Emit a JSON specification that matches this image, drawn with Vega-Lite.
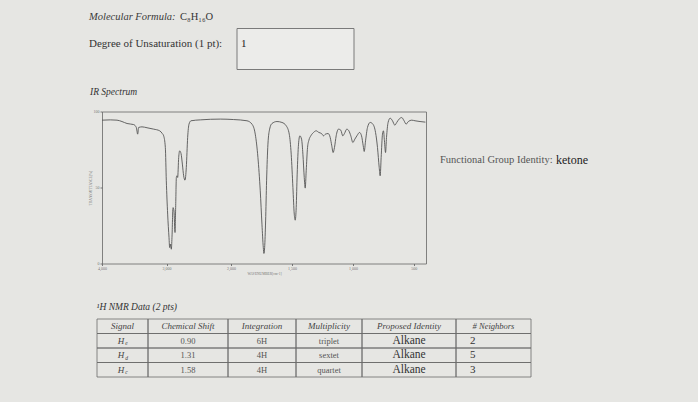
{
  "$schema": "https://vega.github.io/schema/vega-lite/v6.json",
  "background": "#e6e6e3",
  "padding": {"left": 88, "top": 3, "right": 110, "bottom": 24},
  "spacing": 16.5,
  "config": {
    "view": {"stroke": null},
    "font": "Liberation Serif",
    "text": {"font": "Liberation Serif"},
    "title": {"font": "Liberation Serif"}
  },
  "vconcat": [
    {
      "width": 266,
      "height": 58,
      "data": {"values": [
        {"item": "formula", "label": "Molecular Formula:", "answer": "C₈H₁₆O"},
        {"item": "unsaturation", "label": "Degree of Unsaturation (1 pt):", "answer": "1"}
      ]},
      "encoding": {
        "y": {"field": "item", "type": "nominal", "axis": null,
              "scale": {"domain": ["formula", "unsaturation"], "range": [0, 54], "paddingInner": 0, "paddingOuter": 0}}
      },
      "layer": [
        {
          "transform": [{"filter": "datum.item === 'formula'"}],
          "mark": {"type": "text", "align": "left", "baseline": "middle", "fontStyle": "italic", "fontSize": 10.5, "dx": -8, "color": "#3a3a3a"},
          "encoding": {
            "x": {"datum": "label", "type": "nominal", "bandPosition": 0, "axis": null, "scale": {"domain": ["label", "answer"], "paddingInner": 0.2148, "paddingOuter": 0}},
            "text": {"field": "label"}
          }
        },
        {
          "transform": [{"filter": "datum.item === 'formula'"}],
          "mark": {"type": "text", "align": "left", "baseline": "middle", "fontSize": 10.5, "dx": 83, "color": "#333"},
          "encoding": {
            "x": {"datum": "label", "type": "nominal", "bandPosition": 0},
            "text": {"field": "answer"}
          }
        },
        {
          "transform": [{"filter": "datum.item === 'unsaturation'"}],
          "mark": {"type": "text", "align": "left", "baseline": "middle", "fontSize": 11, "dx": -8, "color": "#333"},
          "encoding": {
            "x": {"datum": "label", "type": "nominal", "bandPosition": 0},
            "text": {"field": "label"}
          }
        },
        {
          "transform": [{"filter": "datum.item === 'unsaturation'"}],
          "mark": {"type": "rect", "fill": "#ececea", "stroke": "#7a7a7a", "strokeWidth": 1, "height": 41, "yOffset": 5.5, "xOffset": -9, "x2Offset": -9},
          "encoding": {
            "x": {"datum": "answer", "type": "nominal"}
          }
        },
        {
          "transform": [{"filter": "datum.item === 'unsaturation'"}],
          "mark": {"type": "text", "align": "left", "baseline": "middle", "fontSize": 11, "dx": -5, "color": "#222"},
          "encoding": {
            "x": {"datum": "answer", "type": "nominal", "bandPosition": 0},
            "text": {"field": "answer"}
          }
        }
      ]
    },
    {
      "width": 329,
      "height": 152,
      "title": {"text": "IR Spectrum", "anchor": "start", "frame": "bounds", "fontStyle": "italic", "fontWeight": "normal", "fontSize": 9.5, "color": "#333", "offset": 13, "dx": 2},
      "resolve": {"axis": {"x": "independent", "y": "independent"}},
      "data": {"values": [
        {"wavenumber": 4000, "transmittance": 94.3},
        {"wavenumber": 3871, "transmittance": 94.5},
        {"wavenumber": 3767, "transmittance": 94.3},
        {"wavenumber": 3690, "transmittance": 93.4},
        {"wavenumber": 3612, "transmittance": 92.1},
        {"wavenumber": 3509, "transmittance": 91.4},
        {"wavenumber": 3468, "transmittance": 89.5},
        {"wavenumber": 3447, "transmittance": 85.1},
        {"wavenumber": 3432, "transmittance": 89.5},
        {"wavenumber": 3380, "transmittance": 89.9},
        {"wavenumber": 3302, "transmittance": 89.3},
        {"wavenumber": 3199, "transmittance": 88.4},
        {"wavenumber": 3106, "transmittance": 87.3},
        {"wavenumber": 3065, "transmittance": 85.5},
        {"wavenumber": 3044, "transmittance": 84.0},
        {"wavenumber": 3018, "transmittance": 76.3},
        {"wavenumber": 3003, "transmittance": 54.4},
        {"wavenumber": 2982, "transmittance": 32.5},
        {"wavenumber": 2961, "transmittance": 17.0},
        {"wavenumber": 2951, "transmittance": 10.5},
        {"wavenumber": 2940, "transmittance": 12.7},
        {"wavenumber": 2925, "transmittance": 9.4},
        {"wavenumber": 2915, "transmittance": 17.0},
        {"wavenumber": 2899, "transmittance": 36.8},
        {"wavenumber": 2884, "transmittance": 34.6},
        {"wavenumber": 2868, "transmittance": 20.4},
        {"wavenumber": 2858, "transmittance": 36.8},
        {"wavenumber": 2847, "transmittance": 56.6},
        {"wavenumber": 2837, "transmittance": 57.7},
        {"wavenumber": 2827, "transmittance": 56.6},
        {"wavenumber": 2811, "transmittance": 69.7},
        {"wavenumber": 2796, "transmittance": 74.1},
        {"wavenumber": 2775, "transmittance": 72.4},
        {"wavenumber": 2754, "transmittance": 65.4},
        {"wavenumber": 2734, "transmittance": 57.7},
        {"wavenumber": 2713, "transmittance": 54.8},
        {"wavenumber": 2693, "transmittance": 63.2},
        {"wavenumber": 2672, "transmittance": 82.9},
        {"wavenumber": 2651, "transmittance": 91.7},
        {"wavenumber": 2620, "transmittance": 93.9},
        {"wavenumber": 2475, "transmittance": 94.5},
        {"wavenumber": 2165, "transmittance": 95.0},
        {"wavenumber": 1978, "transmittance": 94.7},
        {"wavenumber": 1869, "transmittance": 93.9},
        {"wavenumber": 1828, "transmittance": 91.7},
        {"wavenumber": 1801, "transmittance": 85.1},
        {"wavenumber": 1779, "transmittance": 69.7},
        {"wavenumber": 1760, "transmittance": 47.8},
        {"wavenumber": 1746, "transmittance": 25.9},
        {"wavenumber": 1735, "transmittance": 10.5},
        {"wavenumber": 1730, "transmittance": 6.6},
        {"wavenumber": 1724, "transmittance": 10.5},
        {"wavenumber": 1716, "transmittance": 28.0},
        {"wavenumber": 1708, "transmittance": 54.4},
        {"wavenumber": 1697, "transmittance": 78.5},
        {"wavenumber": 1683, "transmittance": 88.4},
        {"wavenumber": 1664, "transmittance": 92.1},
        {"wavenumber": 1623, "transmittance": 93.4},
        {"wavenumber": 1582, "transmittance": 92.8},
        {"wavenumber": 1547, "transmittance": 90.6},
        {"wavenumber": 1522, "transmittance": 85.1},
        {"wavenumber": 1506, "transmittance": 71.9},
        {"wavenumber": 1492, "transmittance": 50.0},
        {"wavenumber": 1481, "transmittance": 32.5},
        {"wavenumber": 1473, "transmittance": 28.5},
        {"wavenumber": 1465, "transmittance": 36.8},
        {"wavenumber": 1457, "transmittance": 58.8},
        {"wavenumber": 1446, "transmittance": 78.5},
        {"wavenumber": 1435, "transmittance": 84.0},
        {"wavenumber": 1421, "transmittance": 81.8},
        {"wavenumber": 1410, "transmittance": 71.9},
        {"wavenumber": 1399, "transmittance": 56.6},
        {"wavenumber": 1391, "transmittance": 49.6},
        {"wavenumber": 1383, "transmittance": 61.0},
        {"wavenumber": 1372, "transmittance": 76.3},
        {"wavenumber": 1361, "transmittance": 81.1},
        {"wavenumber": 1345, "transmittance": 84.0},
        {"wavenumber": 1323, "transmittance": 86.2},
        {"wavenumber": 1301, "transmittance": 87.3},
        {"wavenumber": 1279, "transmittance": 86.2},
        {"wavenumber": 1257, "transmittance": 85.5},
        {"wavenumber": 1241, "transmittance": 84.0},
        {"wavenumber": 1225, "transmittance": 85.1},
        {"wavenumber": 1203, "transmittance": 85.5},
        {"wavenumber": 1186, "transmittance": 82.9},
        {"wavenumber": 1173, "transmittance": 77.4},
        {"wavenumber": 1162, "transmittance": 73.0},
        {"wavenumber": 1151, "transmittance": 76.3},
        {"wavenumber": 1137, "transmittance": 84.0},
        {"wavenumber": 1118, "transmittance": 88.4},
        {"wavenumber": 1099, "transmittance": 87.7},
        {"wavenumber": 1083, "transmittance": 84.0},
        {"wavenumber": 1069, "transmittance": 85.5},
        {"wavenumber": 1050, "transmittance": 88.4},
        {"wavenumber": 1033, "transmittance": 87.3},
        {"wavenumber": 1017, "transmittance": 84.0},
        {"wavenumber": 1000, "transmittance": 79.6},
        {"wavenumber": 984, "transmittance": 81.8},
        {"wavenumber": 967, "transmittance": 84.0},
        {"wavenumber": 945, "transmittance": 86.2},
        {"wavenumber": 929, "transmittance": 84.0},
        {"wavenumber": 915, "transmittance": 77.4},
        {"wavenumber": 907, "transmittance": 73.7},
        {"wavenumber": 896, "transmittance": 80.7},
        {"wavenumber": 880, "transmittance": 89.5},
        {"wavenumber": 858, "transmittance": 92.8},
        {"wavenumber": 836, "transmittance": 91.7},
        {"wavenumber": 814, "transmittance": 86.2},
        {"wavenumber": 798, "transmittance": 76.3},
        {"wavenumber": 784, "transmittance": 63.2},
        {"wavenumber": 776, "transmittance": 57.7},
        {"wavenumber": 768, "transmittance": 69.7},
        {"wavenumber": 757, "transmittance": 85.1},
        {"wavenumber": 749, "transmittance": 87.3},
        {"wavenumber": 741, "transmittance": 80.7},
        {"wavenumber": 732, "transmittance": 73.0},
        {"wavenumber": 724, "transmittance": 82.9},
        {"wavenumber": 711, "transmittance": 92.8},
        {"wavenumber": 694, "transmittance": 95.6},
        {"wavenumber": 675, "transmittance": 93.9},
        {"wavenumber": 656, "transmittance": 91.0},
        {"wavenumber": 640, "transmittance": 92.8},
        {"wavenumber": 621, "transmittance": 95.0},
        {"wavenumber": 599, "transmittance": 96.0},
        {"wavenumber": 580, "transmittance": 93.9},
        {"wavenumber": 563, "transmittance": 91.7},
        {"wavenumber": 545, "transmittance": 93.4},
        {"wavenumber": 517, "transmittance": 94.3},
        {"wavenumber": 490, "transmittance": 93.9},
        {"wavenumber": 449, "transmittance": 93.4},
        {"wavenumber": 405, "transmittance": 93.0}
      ]},
      "layer": [
        {
          "mark": {"type": "line", "color": "#555", "strokeWidth": 0.9, "interpolate": "monotone"},
          "encoding": {
            "x": {"field": "wavenumber", "type": "quantitative",
                  "scale": {"domain": [4000, 2000, 400], "range": [5, 134, 329], "nice": false, "zero": false},
                  "axis": {"values": [4000, 3000, 2000, 1500, 1000, 500], "title": "WAVENUMBER[cm-1]", "titleFontSize": 3.5, "titleFontWeight": "normal", "titleColor": "#777", "titlePadding": 1, "labelFontSize": 4, "labelColor": "#777", "labelPadding": 1, "labelFlush": false, "tickSize": 2, "tickColor": "#777", "domainColor": "#666", "domainWidth": 0.8, "grid": false}},
            "y": {"field": "transmittance", "type": "quantitative",
                  "scale": {"domain": [0, 100], "nice": false},
                  "axis": {"values": [0, 50, 100], "offset": -5, "title": "TRANSMITTANCE[%]", "titleFontSize": 3.5, "titleFontWeight": "normal", "titleColor": "#777", "titlePadding": 1, "labelFontSize": 4, "labelColor": "#777", "labelPadding": 1, "tickSize": 2, "tickColor": "#777", "domainColor": "#666", "domainWidth": 0.8, "grid": false}},
            "order": {"field": "wavenumber", "sort": "descending"}
          }
        },
        {
          "data": {"values": [{"label": "Functional Group Identity:", "answer": "ketone"}]},
          "mark": {"type": "text", "align": "left", "baseline": "middle", "fontSize": 10.5, "dx": 14, "color": "#555"},
          "encoding": {
            "x": {"datum": 400, "type": "quantitative", "axis": {"orient": "top", "labels": false, "ticks": false, "title": null, "grid": false, "domainColor": "#666", "domainWidth": 0.8}},
            "y": {"datum": 67.8, "type": "quantitative", "axis": {"orient": "right", "labels": false, "ticks": false, "title": null, "grid": false, "domainColor": "#666", "domainWidth": 0.8}},
            "text": {"field": "label"}
          }
        },
        {
          "data": {"values": [{"label": "Functional Group Identity:", "answer": "ketone"}]},
          "mark": {"type": "text", "align": "left", "baseline": "middle", "fontSize": 12, "dx": 130, "color": "#222"},
          "encoding": {
            "x": {"datum": 400, "type": "quantitative", "axis": null},
            "y": {"datum": 67.8, "type": "quantitative", "axis": null},
            "text": {"field": "answer"}
          }
        }
      ]
    },
    {
      "title": {"text": ["", "¹H NMR Data (2 pts)"], "lineHeight": 9.5, "anchor": "start", "fontStyle": "italic", "fontWeight": "normal", "fontSize": 9.5, "color": "#333", "offset": 7},
      "spacing": 0,
      "bounds": "flush",
      "data": {"values": [
        {"row": "h", "signal": "Signal", "sub": "", "shift": "Chemical Shift", "integration": "Integration", "multiplicity": "Multiplicity", "identity": "Proposed Identity", "neighbors": "# Neighbors"},
        {"row": "1", "signal": "H", "sub": "e", "shift": "0.90", "integration": "6H", "multiplicity": "triplet", "identity": "Alkane", "neighbors": "2"},
        {"row": "2", "signal": "H", "sub": "d", "shift": "1.31", "integration": "4H", "multiplicity": "sextet", "identity": "Alkane", "neighbors": "5"},
        {"row": "3", "signal": "H", "sub": "c", "shift": "1.58", "integration": "4H", "multiplicity": "quartet", "identity": "Alkane", "neighbors": "3"}
      ]},
      "hconcat": [
        {
          "width": 51, "height": 58,
          "encoding": {"y": {"field": "row", "type": "nominal", "axis": null, "scale": {"domain": ["h", "1", "2", "3"], "paddingInner": 0, "paddingOuter": 0}}},
          "layer": [
            {"mark": {"type": "rect", "fill": "transparent", "stroke": "#6a6a6a", "strokeWidth": 0.8}},
            {"transform": [{"filter": "datum.row === 'h'"}], "mark": {"type": "text", "fontStyle": "italic", "fontSize": 9, "color": "#444"}, "encoding": {"text": {"field": "signal"}}},
            {"transform": [{"filter": "datum.row !== 'h'"}], "mark": {"type": "text", "fontStyle": "italic", "fontSize": 9, "dx": -1.5, "color": "#444"}, "encoding": {"text": {"field": "signal"}}},
            {"transform": [{"filter": "datum.row !== 'h'"}], "mark": {"type": "text", "fontStyle": "italic", "fontSize": 5.5, "dx": 4, "dy": 2.5, "color": "#444"}, "encoding": {"text": {"field": "sub"}}}
          ]
        },
        {
          "width": 80, "height": 58,
          "encoding": {"y": {"field": "row", "type": "nominal", "axis": null, "scale": {"domain": ["h", "1", "2", "3"], "paddingInner": 0, "paddingOuter": 0}}},
          "layer": [
            {"mark": {"type": "rect", "fill": "transparent", "stroke": "#6a6a6a", "strokeWidth": 0.8}},
            {"transform": [{"filter": "datum.row === 'h'"}], "mark": {"type": "text", "fontStyle": "italic", "fontSize": 9, "color": "#444"}, "encoding": {"text": {"field": "shift"}}},
            {"transform": [{"filter": "datum.row !== 'h'"}], "mark": {"type": "text", "fontSize": 8.5, "color": "#555"}, "encoding": {"text": {"field": "shift"}}}
          ]
        },
        {
          "width": 68, "height": 58,
          "encoding": {"y": {"field": "row", "type": "nominal", "axis": null, "scale": {"domain": ["h", "1", "2", "3"], "paddingInner": 0, "paddingOuter": 0}}},
          "layer": [
            {"mark": {"type": "rect", "fill": "transparent", "stroke": "#6a6a6a", "strokeWidth": 0.8}},
            {"transform": [{"filter": "datum.row === 'h'"}], "mark": {"type": "text", "fontStyle": "italic", "fontSize": 9, "color": "#444"}, "encoding": {"text": {"field": "integration"}}},
            {"transform": [{"filter": "datum.row !== 'h'"}], "mark": {"type": "text", "fontSize": 8.5, "color": "#555"}, "encoding": {"text": {"field": "integration"}}}
          ]
        },
        {
          "width": 66, "height": 58,
          "encoding": {"y": {"field": "row", "type": "nominal", "axis": null, "scale": {"domain": ["h", "1", "2", "3"], "paddingInner": 0, "paddingOuter": 0}}},
          "layer": [
            {"mark": {"type": "rect", "fill": "transparent", "stroke": "#6a6a6a", "strokeWidth": 0.8}},
            {"transform": [{"filter": "datum.row === 'h'"}], "mark": {"type": "text", "fontStyle": "italic", "fontSize": 9, "color": "#444"}, "encoding": {"text": {"field": "multiplicity"}}},
            {"transform": [{"filter": "datum.row !== 'h'"}], "mark": {"type": "text", "fontSize": 8.5, "color": "#555"}, "encoding": {"text": {"field": "multiplicity"}}}
          ]
        },
        {
          "width": 94, "height": 58,
          "encoding": {"y": {"field": "row", "type": "nominal", "axis": null, "scale": {"domain": ["h", "1", "2", "3"], "paddingInner": 0, "paddingOuter": 0}}},
          "layer": [
            {"mark": {"type": "rect", "fill": "transparent", "stroke": "#6a6a6a", "strokeWidth": 0.8}},
            {"transform": [{"filter": "datum.row === 'h'"}], "mark": {"type": "text", "fontStyle": "italic", "fontSize": 9, "color": "#444"}, "encoding": {"text": {"field": "identity"}}},
            {"transform": [{"filter": "datum.row !== 'h'"}], "mark": {"type": "text", "fontSize": 11.5, "color": "#333"}, "encoding": {"text": {"field": "identity"}}}
          ]
        },
        {
          "width": 75, "height": 58,
          "encoding": {"y": {"field": "row", "type": "nominal", "axis": null, "scale": {"domain": ["h", "1", "2", "3"], "paddingInner": 0, "paddingOuter": 0}}},
          "layer": [
            {"mark": {"type": "rect", "fill": "transparent", "stroke": "#6a6a6a", "strokeWidth": 0.8}},
            {"transform": [{"filter": "datum.row === 'h'"}], "mark": {"type": "text", "fontStyle": "italic", "fontSize": 8.5, "color": "#444"}, "encoding": {"text": {"field": "neighbors"}}},
            {"transform": [{"filter": "datum.row !== 'h'"}], "mark": {"type": "text", "align": "left", "fontSize": 11, "dx": -23.5, "color": "#333"}, "encoding": {"text": {"field": "neighbors"}}}
          ]
        }
      ]
    }
  ]
}
